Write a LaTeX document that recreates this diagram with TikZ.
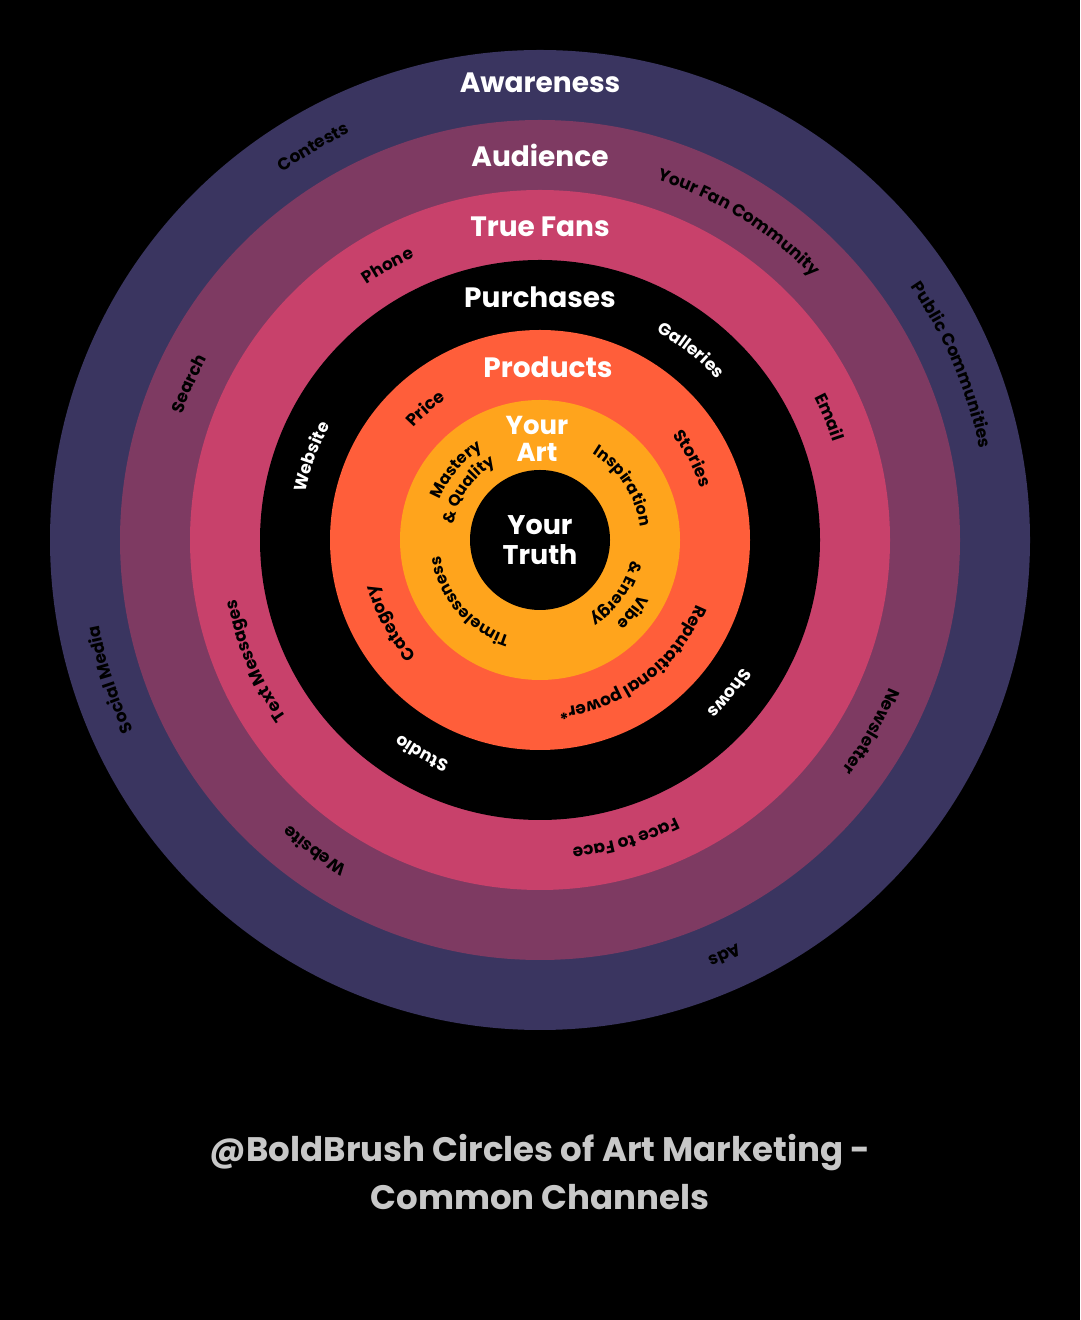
\documentclass[tikz,border=0pt]{standalone}
\usepackage{fontspec}
\setmainfont{Poppins}
\usetikzlibrary{decorations.text}
\definecolor{cAw}{HTML}{3A3560}
\definecolor{cAu}{HTML}{7E3A62}
\definecolor{cTF}{HTML}{C8416B}
\definecolor{cPr}{HTML}{FF5E3A}
\definecolor{cAr}{HTML}{FFA41C}
\definecolor{cCap}{HTML}{C8C8C8}
\newcommand\arclab[5]{% angle, radius, size, color, text
  \path[decorate,decoration={text along path,text align=center,text color=#4,
    text={|\bfseries\fontsize{#3}{#3}\selectfont|#5}}]
    (#1+60:#2) arc[start angle=#1+60,end angle=#1-60,radius=#2];}
\tikzset{ring/.style={circle,inner sep=0pt,minimum size=#1},
  title/.style={text=white,font=\bfseries\fontsize{28}{30}\selectfont,align=center}}
\begin{document}
\begin{tikzpicture}[x=1pt,y=1pt]
\fill[black] (0,0) rectangle (1080,1320);
\begin{scope}[shift={(540,780)}]
\node[ring=980pt,fill=cAw] (aw) at (0,0) {};
\node[ring=840pt,fill=cAu] (au) at (0,0) {};
\node[ring=700pt,fill=cTF] (tf) at (0,0) {};
\node[ring=560pt,fill=black] (pu) at (0,0) {};
\node[ring=420pt,fill=cPr] (pr) at (0,0) {};
\node[ring=280pt,fill=cAr] (ar) at (0,0) {};
\node[ring=140pt,fill=black,title,font=\bfseries\fontsize{27}{30}\selectfont] (tr) at (0,0) {Your\\Truth};
\node[title] (t1) at (0,457) {Awareness};
\node[title] (t2) at (0,385) {Audience};
\node[title] (t3) at (0,313) {True Fans};
\node[title] (t4) at (0,243) {Purchases};
\node[title] (t5) at (8,173) {Products};
\node[title,font=\bfseries\fontsize{26}{27}\selectfont] (t6) at (-3,101) {Your\\Art};
% outer
\arclab{120}{449}{17}{black}{Contests}
\arclab{23}{449}{17}{black}{Public Communities}
\arclab{198}{449}{17}{black}{Social Media}
\arclab{-66}{449}{17}{black}{Ads}
% audience
\arclab{58}{379}{17}{black}{Your Fan Community}
\arclab{156}{379}{17}{black}{Search}
\arclab{-30}{379}{17}{black}{Newsletter}
\arclab{234}{379}{17}{black}{Website}
% true fans
\arclab{119}{309}{17}{black}{Phone}
\arclab{23}{309}{17}{black}{Email}
\arclab{203}{309}{17}{black}{Text Messages}
\arclab{-74}{309}{17}{black}{Face to Face}
% purchases
\arclab{51.5}{239}{17}{white}{Galleries}
\arclab{160}{239}{17}{white}{Website}
\arclab{-39}{239}{17}{white}{Shows}
\arclab{241}{239}{17}{white}{Studio}
% products
\arclab{131}{169}{17}{black}{Price}
\arclab{28}{169}{17}{black}{Stories}
\arclab{209}{169}{17}{black}{Category}
\arclab{-53}{169}{17}{black}{Reputational power*}
% your art
\arclab{140}{108}{16}{black}{Mastery}
\arclab{145}{88}{16}{black}{{\&} Quality}
\arclab{33}{101}{16}{black}{Inspiration}
\arclab{-35}{93}{16}{black}{{\&} Energy}
\arclab{-38}{113}{16}{black}{Vibe}
\arclab{221}{101}{16}{black}{Timelessness}
\end{scope}
\node[text=cCap,font=\bfseries\fontsize{34}{48}\selectfont,align=center] (cap) at (540,148) {@BoldBrush Circles of Art Marketing -\\Common Channels};
\end{tikzpicture}
\end{document}
